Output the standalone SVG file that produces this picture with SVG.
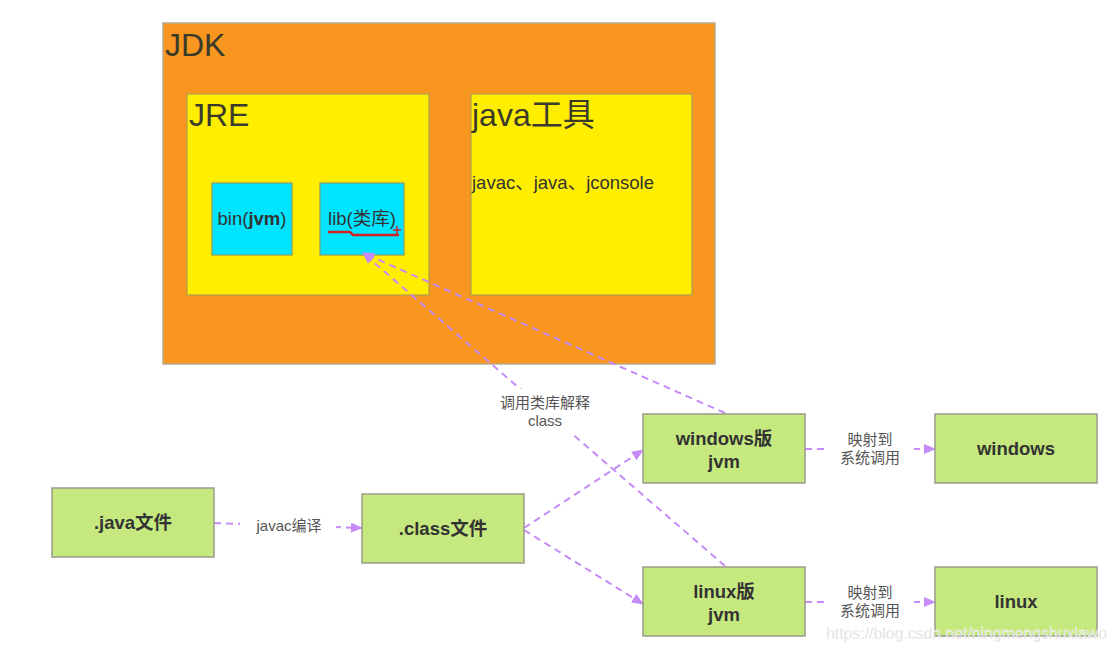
<svg xmlns="http://www.w3.org/2000/svg" width="1118" height="652" viewBox="0 0 1118 652">
<defs>
<marker id="ah" viewBox="0 0 12 10" refX="11" refY="5" markerWidth="12" markerHeight="10" markerUnits="userSpaceOnUse" orient="auto">
<path d="M0,0 L12,5 L0,10 Z" fill="#C58CF7"/>
</marker>
<style>
.big{font-family:"Liberation Sans","Noto Sans CJK SC",sans-serif;font-size:32px;fill:#3a3a2a}
.mid{font-family:"Liberation Sans","Noto Sans CJK SC",sans-serif;font-size:18.5px;fill:#333}
.node{fill:#C6E97F;stroke:#9a9a8a;stroke-width:1.5}
.nt{font-family:"Liberation Sans","Noto Sans CJK SC",sans-serif;font-size:18.5px;font-weight:bold;fill:#333;text-anchor:middle}
.lbl{font-family:"Liberation Sans","Noto Sans CJK SC",sans-serif;font-size:15px;fill:#555;text-anchor:middle}
.edge{fill:none;stroke:#C58CF7;stroke-width:2;stroke-dasharray:7,5}
</style>
</defs>
<rect width="1118" height="652" fill="#fff"/>
<g id="jdk">
<rect x="163" y="23" width="552" height="341" fill="#F8961F" stroke="#b8a890" stroke-width="1.5"/>
<text x="165" y="56" class="big">JDK</text>
</g>
<g id="jre">
<rect x="187" y="94" width="242" height="201" fill="#FFEE00" stroke="#b0a050" stroke-width="1.2"/>
<text x="189" y="126" class="big">JRE</text>
</g>
<g id="tools">
<rect x="471" y="94" width="221" height="201" fill="#FFEE00" stroke="#b0a050" stroke-width="1.2"/>
<text x="472" y="126" class="big">java工具</text>
<text x="472" y="189" class="mid">javac、java、jconsole</text>
</g>
<g id="bin">
<rect x="212" y="183" width="80" height="72" fill="#00E5FF" stroke="#8a9a70" stroke-width="1.2"/>
<text x="252" y="225" class="mid" text-anchor="middle">bin(<tspan font-weight="bold">jvm</tspan>)</text>
</g>
<g id="lib">
<rect x="320" y="183" width="84" height="72" fill="#00E5FF" stroke="#8a9a70" stroke-width="1.2"/>
<text x="362" y="225" class="mid" text-anchor="middle">lib(类库)</text>
<path d="M328,232 L350,232 L353,235 L399,235" fill="none" stroke="#D42020" stroke-width="2.5"/>
<path d="M393,230 L401,230 M397,226 L397,234" fill="none" stroke="#D42020" stroke-width="1.5"/>
</g>
<g id="connectors">
<path class="edge" d="M214,523 L362,528" marker-end="url(#ah)"/>
<path class="edge" d="M524,528 L643,450" marker-end="url(#ah)"/>
<path class="edge" d="M524,530 L643,604" marker-end="url(#ah)"/>
<path class="edge" d="M805,449 L935,449" marker-end="url(#ah)"/>
<path class="edge" d="M805,602 L935,602" marker-end="url(#ah)"/>
<path class="edge" d="M725,413 L363,253" marker-end="url(#ah)"/>
<path class="edge" d="M725,566 L363,253" marker-end="url(#ah)"/>
</g>
<g id="edge-labels">
<rect x="240" y="511" width="96" height="26" fill="#fff"/>
<text x="289" y="531" class="lbl">javac编译</text>
<rect x="494" y="389" width="102" height="44" fill="#fff"/>
<text x="545" y="408" class="lbl">调用类库解释</text>
<text x="545" y="426" class="lbl">class</text>
<rect x="826" y="427" width="88" height="42" fill="#fff"/>
<text x="870" y="445" class="lbl">映射到</text>
<text x="870" y="463" class="lbl">系统调用</text>
<rect x="826" y="580" width="88" height="42" fill="#fff"/>
<text x="870" y="598" class="lbl">映射到</text>
<text x="870" y="616" class="lbl">系统调用</text>
</g>
<g id="java-file">
<rect class="node" x="52" y="488" width="162" height="69"/>
<text x="133" y="529" class="nt">.java文件</text>
</g>
<g id="class-file">
<rect class="node" x="362" y="494" width="162" height="69"/>
<text x="443" y="535" class="nt">.class文件</text>
</g>
<g id="win-jvm">
<rect class="node" x="643" y="414" width="162" height="69"/>
<text x="724" y="445" class="nt">windows版</text>
<text x="724" y="468" class="nt">jvm</text>
</g>
<g id="windows">
<rect class="node" x="935" y="414" width="162" height="69"/>
<text x="1016" y="455" class="nt">windows</text>
</g>
<g id="linux-jvm">
<rect class="node" x="643" y="567" width="162" height="69"/>
<text x="724" y="598" class="nt">linux版</text>
<text x="724" y="621" class="nt">jvm</text>
</g>
<g id="linux">
<rect class="node" x="935" y="567" width="162" height="69"/>
<text x="1016" y="608" class="nt">linux</text>
</g>
<text x="826" y="639" font-family="Liberation Sans, sans-serif" font-size="15.8" fill="#dadada" stroke="#ffffff" stroke-width="0.3">https://blog.csdn.net/ningmengshuxiawo</text>
</svg>
